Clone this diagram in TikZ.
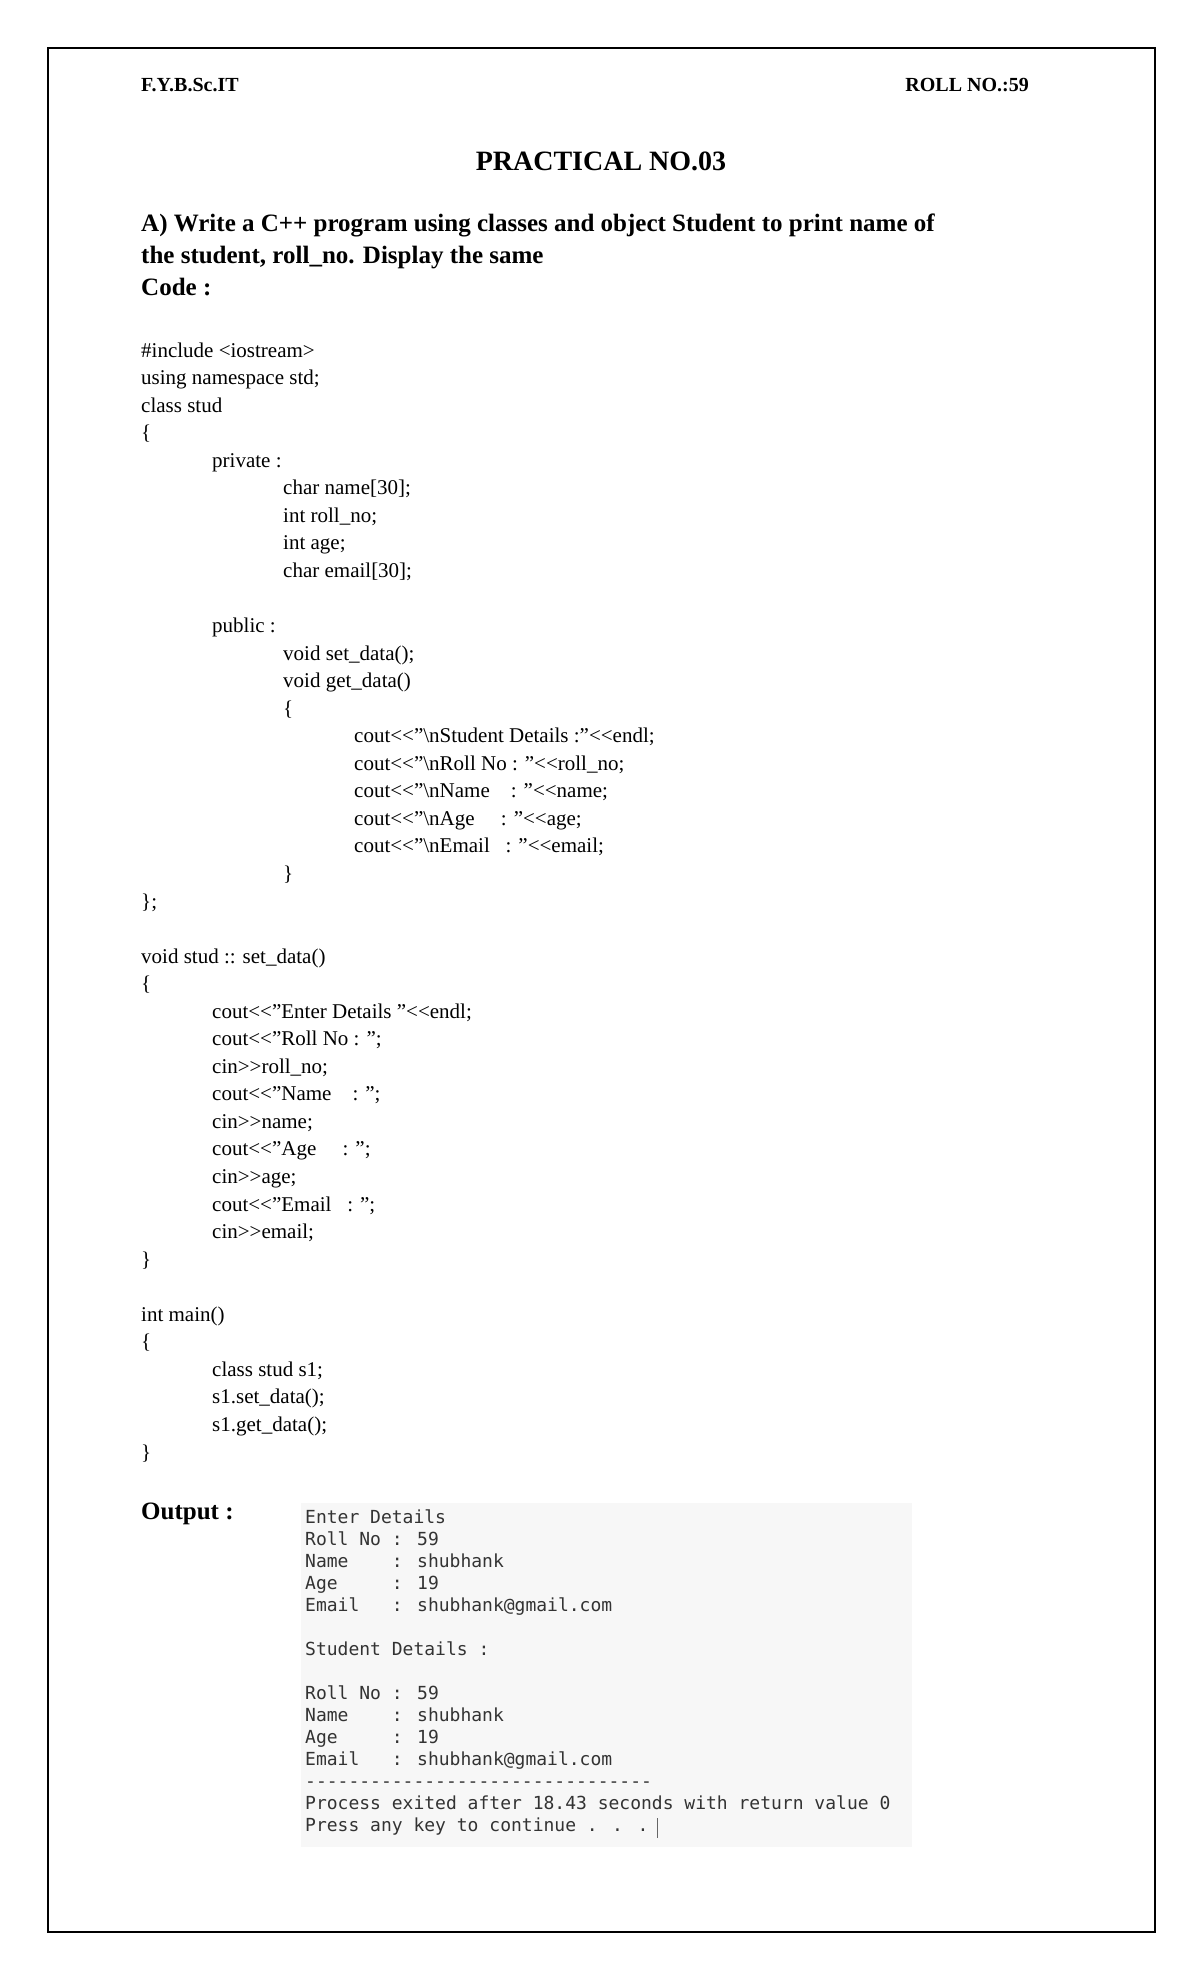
\documentclass[tikz,border=0pt]{standalone}
\usepackage{fontspec}
\setmainfont{Liberation Serif}
\newfontfamily\monof{DejaVu Sans Mono}
\begin{document}
\begin{tikzpicture}[x=1pt,y=-1pt,
  code/.style={anchor=base west,inner sep=0pt,font=\fontsize{21}{24}\selectfont},
  hd/.style={anchor=base west,inner sep=0pt,font=\fontsize{25}{28}\selectfont\bfseries},
  outl/.style={anchor=base west,inner sep=0pt,font=\monof\fontsize{18}{20}\selectfont,text=black!80}]
\useasboundingbox (0,0) rectangle (1200,1976);
\draw[line width=1.3pt] (48,48) rectangle (1155,1932);
\node[anchor=base west,inner sep=0pt,font=\fontsize{20}{22}\selectfont\bfseries] (h1) at (141,91) {F.Y.B.Sc.IT};
\node[anchor=base east,inner sep=0pt,font=\fontsize{20}{22}\selectfont\bfseries] (h2) at (1029,91) {ROLL NO.:59};
\node[anchor=base,inner sep=0pt,font=\fontsize{28}{30}\selectfont\bfseries] (t) at (601,170) {PRACTICAL NO.03};
\node[hd] (q1) at (141,231) {A) Write a C++ program using classes and object Student to print name of};
\node[hd] (q2) at (141,263) {the student, roll\_no. Display the same};
\node[hd] (q3) at (141,295) {Code :};
\def\L#1#2#3{\node[code] (c#1) at (#2,{357+27.55*#1}) {#3};}
\L{0}{141}{\#include <iostream>}
\L{1}{141}{using namespace std;}
\L{2}{141}{class stud}
\L{3}{141}{\{}
\L{4}{212}{private :}
\L{5}{283}{char name[30];}
\L{6}{283}{int roll\_no;}
\L{7}{283}{int age;}
\L{8}{283}{char email[30];}
\L{10}{212}{public :}
\L{11}{283}{void set\_data();}
\L{12}{283}{void get\_data()}
\L{13}{283}{\{}
\L{14}{354}{cout<{}<"\textbackslash nStudent Details :"<{}<endl;}
\L{15}{354}{cout<{}<"\textbackslash nRoll No : "<{}<roll\_no;}
\L{16}{354}{cout<{}<"\textbackslash nName\ \ \ \ : "<{}<name;}
\L{17}{354}{cout<{}<"\textbackslash nAge\ \ \ \ \ : "<{}<age;}
\L{18}{354}{cout<{}<"\textbackslash nEmail\ \ \ : "<{}<email;}
\L{19}{283}{\}}
\L{20}{141}{\};}
\L{22}{141}{void stud :: set\_data()}
\L{23}{141}{\{}
\L{24}{212}{cout<{}<"Enter Details "<{}<endl;}
\L{25}{212}{cout<{}<"Roll No : ";}
\L{26}{212}{cin>{}>roll\_no;}
\L{27}{212}{cout<{}<"Name\ \ \ \ : ";}
\L{28}{212}{cin>{}>name;}
\L{29}{212}{cout<{}<"Age\ \ \ \ \ : ";}
\L{30}{212}{cin>{}>age;}
\L{31}{212}{cout<{}<"Email\ \ \ : ";}
\L{32}{212}{cin>{}>email;}
\L{33}{141}{\}}
\L{35}{141}{int main()}
\L{36}{141}{\{}
\L{37}{212}{class stud s1;}
\L{38}{212}{s1.set\_data();}
\L{39}{212}{s1.get\_data();}
\L{40}{141}{\}}
\node[hd] (ol) at (141,1519) {Output :};
\fill[black!3] (301,1503) rectangle (912,1847);
\def\O#1#2{\node[outl] (o#1) at (305,{1523+22*#1}) {#2};}
\O{0}{Enter Details}
\O{1}{Roll No : 59}
\O{2}{Name\ \ \ \ : shubhank}
\O{3}{Age\ \ \ \ \ : 19}
\O{4}{Email\ \ \ : shubhank@gmail.com}
\O{6}{Student Details :}
\O{8}{Roll No : 59}
\O{9}{Name\ \ \ \ : shubhank}
\O{10}{Age\ \ \ \ \ : 19}
\O{11}{Email\ \ \ : shubhank@gmail.com}
\O{12}{--------------------------------}
\O{13}{Process exited after 18.43 seconds with return value 0}
\O{14}{Press any key to continue . . .}
\draw[black!60] (657,1818) -- (657,1838);
\end{tikzpicture}
\end{document}
